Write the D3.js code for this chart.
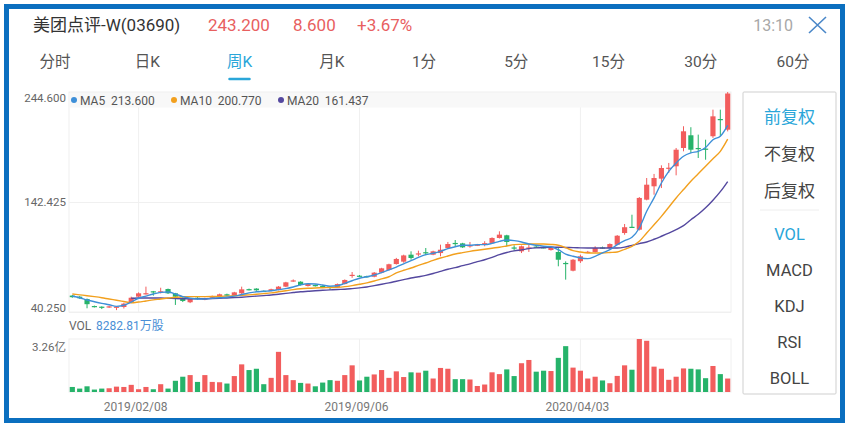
<!DOCTYPE html>
<html>
<head>
<meta charset="utf-8">
<script src="https://d3js.org/d3.v7.min.js"></script>
<style>
  body { margin: 0; background: #fff; }
  svg { display: block; font-family: Roboto, "Noto Sans CJK SC", sans-serif; }
</style>
</head>
<body>
<div id="chart"></div>
<script>
// weekly candles (price in HKD)
const opens = [55.5,54.5,52.3,45.8,45.2,44.6,44.3,44.9,49.3,54.5,56.8,59.5,58.8,61.6,57.6,53.5,49.3,53.5,51.7,53.5,
  55.1,56.7,55.4,57.6,61.5,62,59.9,59.8,60.7,63.8,68.8,68.4,64.4,65.3,64.6,63.9,63.2,66.2,74.2,74,
  73.6,73,76.8,79.3,84.8,87,93.5,93.9,95.8,93.5,95,99.7,104.4,104,101.4,102,103.5,104.4,109,111.5,
  100.2,96.6,99.4,101,100.4,97.8,96,85.8,78.6,87.4,95.5,96,100.2,99.7,102.7,113.6,119.4,116.7,144.6,157,
  164.1,173.5,175.6,192.6,204.4,192.6,192,203.5,219.5,209.6];
const highs = [56,55,52.8,46.2,45.5,46,45.8,48.8,54.5,58.5,63.8,59.8,62.8,62,58,54,52.8,54,53.5,55.5,
  57.3,57.3,59,63.8,62,62.3,60.2,61.9,64.3,68.3,70.5,68.8,66.7,65.8,65,64.4,66.7,70.5,77.4,74.6,
  74,77.4,81.3,85.1,90.5,93.5,96.6,97.2,99.7,97.2,102.8,105.3,107.1,104.5,105.3,103.5,106,109.6,115.2,112,
  102.2,102,103,101.6,100.8,101.4,100.4,87.3,89.4,93.5,97,101.3,101,104,111.7,122,130.6,147,164.7,168.5,
  176.5,178.7,192.6,212.8,211.9,205,200.3,228.2,228.2,244.6];
const lows = [53.5,52.5,43.7,44.5,43,44,42,43.5,48.5,54,56.5,55.4,57.5,57,46.8,49.5,48.5,51.8,51.2,53,
  54.6,55,55,57,60.3,60,58.7,59.4,60.3,63.3,68.3,64.8,63.9,63.9,63.5,60.7,62.8,65.8,72,73,
  72.2,72.5,76.3,78.8,84.3,86,88.8,92,93,93,92,99.2,101,99.8,100,101.5,101.3,104,108.5,101.3,
  97.2,95,96,99.8,99.4,97.3,82.7,70.3,78,85.8,95,95.5,99,99.2,102.3,112,118.3,116,144,149.2,
  155.4,169.4,167.2,189.5,188,183.3,181.7,202,203.5,208];
const closes = [54,53,47.5,45,44.8,45.5,45.2,48,53.5,57.6,57.7,58.8,59.5,57.6,54.5,50.5,52.3,52.3,53,55.1,
  56.7,55.4,58.5,61.3,61,60.4,59.3,61.4,63.8,67.8,69.6,65.3,66.2,64.4,64.2,63.5,66.2,70,74.8,73.6,
  73,76.8,80.8,84.6,89.5,92.8,90.4,94.7,94.9,96.6,98.1,103.4,103.5,100.3,102.2,102.8,104.2,109,112.1,105.3,
  99.7,101.3,100.2,100.4,99.9,100.9,88.8,84.8,88.8,92,96.2,99.7,99.6,103.4,111.1,119,118.9,146.2,158.5,164.7,
  174,174.3,191,208.1,191,192,191,222,218.5,243.2];
// volume in 亿股
const volumes = [0.31,0.21,0.35,0.15,0.21,0.23,0.33,0.31,0.44,0.17,0.31,0.17,0.48,0.21,0.69,0.94,1.04,0.62,1.04,0.62,
  0.60,0.52,0.98,1.70,1.35,1.43,0.48,0.87,2.47,1.04,0.73,0.56,0.52,0.35,0.58,0.73,0.69,1.04,1.64,0.71,
  0.94,1.08,1.35,0.87,1.27,0.92,1.21,1.19,1.31,0.83,1.48,1.43,0.79,0.79,0.77,0.37,0.46,1.21,1.10,1.39,
  0.98,1.77,1.97,1.25,1.31,1.29,2.10,2.82,1.50,1.31,0.83,0.94,0.71,0.54,0.99,1.64,1.37,3.26,3.15,1.56,
  1.43,0.75,0.94,1.45,1.43,1.39,0.85,1.60,1.10,0.828281];
const ma5 = [55.1,53.5,51.4,49.8,48.3,47,45.5,46.5,49.5,53,55,57,58.5,58.8,57,54.5,53,52.3,52.3,53,
  53.5,54,55,56.5,58,59,59.5,60,61,62,63.5,65.5,66.5,66.3,65.3,64.3,64.6,66.9,69.3,71.6,
  73,74.6,76.8,79.3,82,85,87.9,91,93.5,94.8,96.6,99.1,100.9,102.2,102.2,102.8,102.8,104,105.9,107.1,
  106.5,105.3,103.4,102.2,101.3,100.9,98.1,94.1,92,90.4,89.8,92,95.1,98.1,102.8,106.5,109.6,118.3,133.8,146.2,
  160.1,170.9,178.7,184.9,188,189.5,193,200.3,203.5,213.6];
const ma10 = [57,56.2,55.4,54.5,53.5,52.3,51.2,50,48.8,49.5,50.5,51.5,52.3,53.2,54,54.3,54.5,54.5,54.5,54.6,
  54.8,55,55.3,55.7,56.2,56.7,57.3,58,59,60,61,61.8,62.3,62.6,62.8,63,63.2,63.8,64.8,66,
  67.3,69,71,73,76.5,79,81.1,83.5,85.8,88.2,90.4,92.3,94.1,95.4,96.6,97.6,98.5,99.5,100.4,101.6,
  102.8,103.1,103.4,103.4,103.4,103,102.2,100,97.2,96,95.1,95,95.1,95.5,96,98.5,101.3,105.9,113.6,121.3,
  129.1,137.6,146.2,154,161.7,168.6,175.6,182.5,189.5,200.77];
const ma20 = [null,null,null,null,null,null,null,null,53,53.2,53.3,53.3,53.2,53,52.8,52.6,52.5,52.5,52.6,52.8,
  53,53.3,53.6,54,54.5,55,55.5,56,56.8,57.6,58.3,59,59.5,60,60.4,60.8,61.2,61.4,62,62.7,
  63.5,64.8,66,67.3,68.8,70.3,71.8,73,74.3,76,78,80,81.5,83.3,85,87,88.8,91,93.5,95.5,
  97,98,99.1,99.8,100.2,100.4,100.4,100.2,100,99.8,99.7,99.7,99.7,99.7,99.7,100.5,102.2,103.8,105.3,107.8,
  110.6,113.5,116.7,120.5,126,131,137,144,152,161.437];

const dateTickIdx = [9, 39, 69];
const dateTickLabels = ["2019/02/08", "2019/09/06", "2020/04/03"];
const priceTicks = [40.25, 142.425, 244.6];
const volMax = 3.26;

const stockName = "美团点评-W(03690)";
const dayChange = "8.600";
const dayPct = "+3.67%";
const clockText = "13:10";
const tabs = ["分时", "日K", "周K", "月K", "1分", "5分", "15分", "30分", "60分"];
const activeTab = "周K";
const fqItems = ["前复权", "不复权", "后复权"];
const indicators = ["VOL", "MACD", "KDJ", "RSI", "BOLL"];

const RED = "#f25d5d", GREEN = "#26b36a", TEAL = "#2aa6d9";
const C5 = "#3e8fd8", C10 = "#f2a01e", C20 = "#54489f";

const width = 848, height = 427;
const left = 69, right = 731;
const pTop = 92, pBot = 312, vTop = 339, vBot = 392;

const svg = d3.select("#chart").append("svg")
  .attr("width", width)
  .attr("height", height);

svg.append("rect").attr("width", width).attr("height", height).attr("fill", "#fff");

// header
const head = svg.append("g").attr("font-size", 17);
head.append("text").attr("x", 33).attr("y", 31).attr("fill", "#333").text(stockName);
head.append("text").attr("x", 208).attr("y", 31).attr("fill", "#e8605f").text(d3.format(".3f")(closes[closes.length - 1]));
head.append("text").attr("x", 293).attr("y", 31).attr("fill", "#e8605f").text(dayChange);
head.append("text").attr("x", 357).attr("y", 31).attr("fill", "#e8605f").text(dayPct);
svg.append("text").attr("x", 793).attr("y", 31).attr("text-anchor", "end")
  .attr("font-size", 16).attr("fill", "#a8a8a8").text(clockText);
svg.append("path").attr("d", "M809,17L826,33M826,17L809,33")
  .attr("stroke", "#4a87c8").attr("stroke-width", 1.6).attr("fill", "none");

// tabs
const tabX = d3.scalePoint().domain(tabs).range([55, 793]);
svg.append("g").selectAll("text").data(tabs).enter().append("text")
  .attr("x", d => tabX(d))
  .attr("y", 67)
  .attr("text-anchor", "middle")
  .attr("font-size", 15.5)
  .attr("fill", d => d === activeTab ? TEAL : "#555")
  .text(d => d);
svg.append("line")
  .attr("x1", tabX(activeTab) - 10).attr("x2", tabX(activeTab) + 10)
  .attr("y1", 79).attr("y2", 79)
  .attr("stroke", TEAL).attr("stroke-width", 2.5).attr("stroke-linecap", "round");

// scales
const x = d3.scaleBand()
  .domain(d3.range(closes.length))
  .range([left, right])
  .paddingInner(0.3)
  .paddingOuter(0.1);
const cx = i => x(i) + x.bandwidth() / 2;

const y = d3.scaleLinear().domain([priceTicks[0], priceTicks[2]]).range([pBot, pTop]);
const yv = d3.scaleLinear().domain([0, volMax]).range([vBot, vTop]);

// panel frames + grid
svg.append("rect").attr("x", left).attr("y", pTop).attr("width", right - left).attr("height", pBot - pTop)
  .attr("fill", "none").attr("stroke", "#f0f0f0");
svg.append("rect").attr("x", left).attr("y", vTop).attr("width", right - left).attr("height", vBot - vTop)
  .attr("fill", "none").attr("stroke", "#f0f0f0");

const yAxis = svg.append("g")
  .attr("transform", `translate(${left},0)`)
  .call(d3.axisLeft(y).tickValues(priceTicks).tickSize(-(right - left)).tickFormat(d3.format(".3f")));
yAxis.select(".domain").remove();
yAxis.selectAll("line").attr("stroke", "#f0f0f0");
yAxis.selectAll("text")
  .attr("x", -3)
  .attr("fill", "#666")
  .attr("font-size", 11.5)
  .attr("font-family", "Roboto, sans-serif")
  .attr("dy", (d, i) => i === 0 ? "-0.05em" : i === 2 ? "0.82em" : "0.32em");

const xGrid = svg.append("g")
  .attr("transform", `translate(0,${pBot})`)
  .call(d3.axisBottom(x).tickValues(dateTickIdx).tickSize(-(pBot - pTop)).tickFormat(""));
xGrid.select(".domain").remove();
xGrid.selectAll("line").attr("stroke", "#f0f0f0");

const xAxis = svg.append("g")
  .attr("transform", `translate(0,${vBot})`)
  .call(d3.axisBottom(x).tickValues(dateTickIdx).tickSize(-(vBot - vTop))
    .tickFormat(d => dateTickLabels[dateTickIdx.indexOf(d)]));
xAxis.select(".domain").remove();
xAxis.selectAll("line").attr("stroke", "#f0f0f0");
xAxis.selectAll("text")
  .attr("y", 10)
  .attr("dx", -3)
  .attr("fill", "#777")
  .attr("font-size", 12)
  .attr("font-family", "Roboto, sans-serif");

// MA legend strip
svg.append("rect").attr("x", left + 1).attr("y", pTop + 0.5).attr("width", right - left - 2).attr("height", 15)
  .attr("fill", "#f8f8f8");
const legendItems = [
  { name: "MA5", val: ma5[ma5.length - 1], color: C5, x: 74 },
  { name: "MA10", val: ma10[ma10.length - 1], color: C10, x: 174 },
  { name: "MA20", val: ma20[ma20.length - 1], color: C20, x: 281 }
];
const lg = svg.append("g").selectAll("g").data(legendItems).enter().append("g");
lg.append("circle").attr("cx", d => d.x).attr("cy", 100).attr("r", 3).attr("fill", d => d.color);
lg.append("text").attr("x", d => d.x + 6).attr("y", 104.5).attr("font-size", 12).attr("fill", "#555")
  .attr("xml:space", "preserve")
  .text(d => d.name + "  " + d3.format(".3f")(d.val));

// candles
const candles = svg.append("g").selectAll("g").data(closes).enter().append("g");
candles.append("line")
  .attr("x1", (d, i) => cx(i)).attr("x2", (d, i) => cx(i))
  .attr("y1", (d, i) => y(highs[i])).attr("y2", (d, i) => y(lows[i]))
  .attr("stroke", (d, i) => d >= opens[i] ? RED : GREEN)
  .attr("stroke-width", 1);
candles.append("rect")
  .attr("x", (d, i) => x(i))
  .attr("width", x.bandwidth())
  .attr("y", (d, i) => y(Math.max(d, opens[i])))
  .attr("height", (d, i) => Math.max(1.2, Math.abs(y(d) - y(opens[i]))))
  .attr("fill", (d, i) => d >= opens[i] ? RED : GREEN);

// moving averages
const maLine = d3.line()
  .defined(d => d != null)
  .x((d, i) => cx(i))
  .y(d => y(d))
  .curve(d3.curveMonotoneX);
[[ma20, C20], [ma10, C10], [ma5, C5]].forEach(([s, c]) => {
  svg.append("path").datum(s).attr("d", maLine)
    .attr("fill", "none").attr("stroke", c).attr("stroke-width", 1.4);
});

// volume
svg.append("text").attr("x", 69).attr("y", 330).attr("font-size", 12).attr("fill", "#666").text("VOL");
svg.append("text").attr("x", 96).attr("y", 330).attr("font-size", 12).attr("fill", "#4b8fd6")
  .text(d3.format(".2f")(volumes[volumes.length - 1] * 10000) + "万股");
svg.append("text").attr("x", 66).attr("y", 351).attr("text-anchor", "end")
  .attr("font-size", 11.5).attr("fill", "#666").text(d3.format(".2f")(volMax) + "亿");

svg.append("g").selectAll("rect").data(volumes).enter().append("rect")
  .attr("x", (d, i) => x(i))
  .attr("width", x.bandwidth())
  .attr("y", d => yv(d))
  .attr("height", d => vBot - yv(d))
  .attr("fill", (d, i) => closes[i] >= opens[i] ? RED : GREEN);

// right side menu
svg.append("rect").attr("x", 743).attr("y", 92).attr("width", 93).attr("height", 302)
  .attr("fill", "#fff").attr("stroke", "#cfcfcf").attr("rx", 1);
svg.append("g").selectAll("text").data(fqItems).enter().append("text")
  .attr("x", 789.5).attr("y", (d, i) => 123 + i * 37)
  .attr("text-anchor", "middle").attr("font-size", 17)
  .attr("fill", (d, i) => i === 0 ? TEAL : "#444").text(d => d);
svg.append("line").attr("x1", 760).attr("x2", 819).attr("y1", 210).attr("y2", 210)
  .attr("stroke", "#eee");
svg.append("g").selectAll("text").data(indicators).enter().append("text")
  .attr("x", 789.5).attr("y", (d, i) => 240 + i * 36)
  .attr("text-anchor", "middle").attr("font-size", 16.5)
  .attr("fill", (d, i) => i === 0 ? TEAL : "#444").text(d => d);

// window frame
svg.append("rect").attr("x", 6.5).attr("y", 6.5).attr("width", 836).attr("height", 414)
  .attr("fill", "none").attr("stroke", "#0b6fbf").attr("stroke-width", 5);
</script>
</body>
</html>
